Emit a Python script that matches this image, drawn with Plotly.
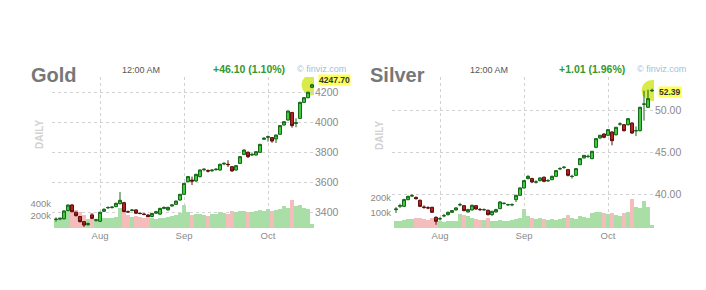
import pandas as pd
import plotly.graph_objects as go

# ---------------- data ----------------
dates = [d.strftime("%Y-%m-%d") for d in pd.bdate_range("2025-07-17", periods=65, freq="C", holidays=["2025-09-01"])]
month_ticks = ["Aug", "Sep", "Oct"]

gold_open = [3350, 3353, 3355, 3410, 3447, 3398, 3370, 3336, 3316, 3380, 3345, 3338, 3405, 3428, 3430, 3436, 3456, 3462, 3402, 3410,
             3414, 3391, 3386, 3380, 3370, 3392, 3386, 3424, 3414, 3440, 3451, 3480, 3518, 3602, 3613, 3607, 3636, 3682, 3676, 3675,
             3682, 3680, 3720, 3718, 3702, 3680, 3724, 3784, 3798, 3780, 3780, 3798, 3885, 3898, 3896, 3887, 3918, 3980, 4013, 4064,
             3990, 4024, 4131, 4162, 4231]
gold_high = [3365, 3362, 3412, 3452, 3452, 3402, 3372, 3340, 3330, 3390, 3355, 3402, 3425, 3438, 3440, 3462, 3533, 3468, 3410, 3420,
             3418, 3398, 3392, 3386, 3395, 3408, 3428, 3438, 3435, 3452, 3476, 3520, 3594, 3640, 3636, 3655, 3684, 3692, 3684, 3686,
             3692, 3722, 3732, 3745, 3706, 3712, 3772, 3818, 3804, 3792, 3806, 3854, 3900, 3910, 3900, 3916, 3980, 4005, 4078, 4066,
             4025, 4135, 4166, 4202, 4255]
gold_low = [3335, 3345, 3350, 3405, 3398, 3370, 3330, 3300, 3308, 3352, 3335, 3333, 3400, 3420, 3422, 3432, 3450, 3398, 3394, 3404,
            3386, 3384, 3378, 3366, 3365, 3386, 3380, 3418, 3410, 3436, 3448, 3476, 3514, 3596, 3580, 3600, 3630, 3672, 3664, 3668,
            3676, 3676, 3712, 3700, 3668, 3676, 3720, 3780, 3760, 3774, 3776, 3794, 3880, 3870, 3862, 3860, 3914, 3976, 4010, 3962,
            3965, 4020, 4126, 4158, 4226]
gold_close = [3352, 3358, 3407, 3446, 3402, 3376, 3336, 3313, 3322, 3358, 3348, 3398, 3418, 3430, 3432, 3458, 3478, 3403, 3401, 3413,
              3392, 3390, 3384, 3370, 3390, 3402, 3424, 3430, 3431, 3447, 3473, 3518, 3591, 3636, 3606, 3651, 3680, 3685, 3673, 3679,
              3685, 3718, 3724, 3716, 3674, 3709, 3769, 3813, 3769, 3784, 3802, 3851, 3891, 3902, 3873, 3913, 3976, 4002, 4073, 3976,
              3995, 4131, 4162, 4198, 4247.7]
gold_volume = [150, 170, 200, 300, 330, 300, 260, 220, 150, 250, 140, 170, 160, 160, 170, 180, 330, 350, 210, 180,
               200, 190, 170, 180, 160, 150, 170, 160, 180, 200, 220, 250, 380, 270, 210, 230, 240, 220, 200, 230,
               240, 260, 250, 240, 280, 260, 290, 280, 270, 260, 290, 300, 280, 310, 290, 300, 320, 360, 330, 470,
               360, 390, 330, 320, 60]  # thousands

silver_open = [38.20, 38.60, 38.59, 39.39, 39.82, 39.66, 39.31, 38.50, 38.42, 38.47, 37.28, 37.10, 37.45, 37.60, 37.88, 38.16, 38.76, 38.67, 37.92, 38.16,
               38.67, 38.22, 38.18, 38.12, 37.60, 37.92, 38.32, 38.93, 38.77, 38.77, 39.39, 39.90, 40.78, 41.89, 41.89, 41.47, 41.65, 42.05, 41.63, 41.77,
               42.16, 43.06, 43.22, 42.96, 42.14, 42.28, 43.55, 44.35, 44.52, 44.27, 45.62, 46.73, 47.20, 47.05, 47.44, 47.12, 48.38, 48.31, 48.31, 48.51,
               47.58, 47.60, 50.75, 50.38, 52.35]
silver_high = [38.50, 38.90, 39.50, 39.85, 40.05, 39.75, 39.40, 38.70, 38.60, 38.55, 37.40, 37.30, 37.70, 37.95, 38.15, 38.50, 39.00, 38.75, 38.30, 38.80,
               38.75, 38.40, 38.35, 38.20, 38.05, 38.30, 39.20, 39.05, 38.90, 38.95, 39.95, 40.85, 41.70, 42.30, 42.00, 41.70, 42.05, 42.15, 41.85, 42.25,
               42.90, 43.25, 43.40, 43.05, 42.35, 43.15, 44.35, 44.70, 44.75, 45.20, 46.70, 47.10, 47.30, 47.80, 47.55, 48.05, 48.60, 48.40, 49.10, 48.60,
               48.10, 50.45, 52.36, 52.48, 52.60]
silver_low = [37.80, 38.40, 38.50, 39.30, 39.70, 39.40, 38.50, 38.30, 38.25, 37.80, 36.40, 36.90, 37.30, 37.50, 37.80, 38.10, 38.60, 38.00, 37.85, 38.10,
              38.20, 38.05, 38.05, 37.50, 37.45, 37.85, 38.25, 38.80, 38.65, 38.60, 39.10, 39.85, 40.70, 41.80, 41.35, 41.30, 41.55, 41.45, 41.50, 41.70,
              42.10, 42.90, 43.05, 42.15, 41.90, 42.20, 43.50, 44.30, 44.35, 44.20, 45.50, 46.60, 46.70, 46.95, 45.85, 47.00, 48.20, 47.50, 48.20, 47.20,
              46.95, 47.50, 48.79, 50.30, 52.20]
silver_close = [38.27, 38.67, 39.39, 39.78, 39.86, 39.50, 38.59, 38.47, 38.40, 37.88, 36.81, 37.12, 37.48, 37.88, 38.08, 38.40, 38.79, 38.08, 38.20, 38.71,
                38.27, 38.20, 38.20, 37.60, 38.00, 38.20, 39.11, 38.95, 38.79, 38.79, 39.90, 40.78, 41.65, 42.16, 41.49, 41.49, 41.97, 41.57, 41.65, 42.16,
                42.84, 43.08, 43.24, 42.28, 42.16, 43.08, 44.27, 44.66, 44.54, 45.14, 46.65, 47.05, 46.81, 47.72, 46.41, 48.00, 48.40, 47.60, 49.03, 47.32,
                47.60, 50.38, 50.77, 51.41, 52.39]
silver_volume = [45, 50, 55, 60, 60, 65, 67, 60, 55, 65, 60, 45, 40, 45, 50, 50, 95, 90, 80, 70,
                 60, 55, 55, 65, 50, 50, 55, 45, 50, 55, 60, 65, 130, 80, 70, 60, 65, 60, 55, 60,
                 55, 60, 65, 90, 70, 60, 80, 75, 70, 100, 105, 110, 100, 95, 100, 90, 80, 100, 110, 195,
                 140, 135, 180, 140, 20]  # thousands

gold_change = "+46.10 (1.10%)"
silver_change = "+1.01 (1.96%)"
time_label = "12:00 AM"

# ---------------- styling helpers ----------------
W, H = 706, 290
FONT = "Liberation Sans, Arial, sans-serif"
GRID = "#d2d2d2"
DASH = "3px,3px"
INC_FILL, INC_LINE = "#3bcc3b", "#16661a"
DEC_FILL, DEC_LINE = "#b52222", "#5e0e0e"
VOL_UP, VOL_DN = "#a9dea6", "#f5bcbc"

def px_x(x):
    return x / W

def px_y(y):
    return 1 - y / H

fig = go.Figure()

tick_dates = []
for m in month_ticks:
    tick_dates.append(next(d for d in dates if pd.Timestamp(d).strftime("%b") == m))

panels = [
    dict(name="Gold", o=gold_open, h=gold_high, l=gold_low, c=gold_close, v=gold_volume,
         xa="x", va="y", pa="y2", xk="xaxis", vk="yaxis", pk="yaxis2",
         dom=(52, 314), prange=(3293.3, 4300), ptick=[3400, 3600, 3800, 4000, 4200], pfmt="d",
         vmax=2516.7e3, vticks=[200e3, 400e3], chg=gold_change, title_x=29, time_x=141, chg_x=211, fin_x=295, daily_x=40,
         lbl_shift=5),
    dict(name="Silver", o=silver_open, h=silver_high, l=silver_low, c=silver_close, v=silver_volume,
         xa="x2", va="y3", pa="y4", xk="xaxis2", vk="yaxis3", pk="yaxis4",
         dom=(392, 654), prange=(36.01, 53.99), ptick=[40, 45, 50], pfmt=".2f",
         vmax=1006.7e3, vticks=[100e3, 200e3], chg=silver_change, title_x=368, time_x=489, chg_x=557, fin_x=635, daily_x=380,
         lbl_shift=-2),
]

ydom = [px_y(228), px_y(77)]

for p in panels:
    vol = [v * 1000 for v in p["v"]]
    vcol = [VOL_UP if c >= o else VOL_DN for o, c in zip(p["o"], p["c"])]
    fig.add_trace(go.Bar(x=dates, y=vol, marker=dict(color=vcol, line=dict(width=0)),
                         xaxis=p["xa"], yaxis=p["va"], showlegend=False, hoverinfo="skip"))
    fig.add_trace(go.Candlestick(x=dates, open=p["o"], high=p["h"], low=p["l"], close=p["c"],
                                 increasing=dict(fillcolor=INC_FILL, line=dict(color=INC_LINE, width=1)),
                                 decreasing=dict(fillcolor=DEC_FILL, line=dict(color=DEC_LINE, width=1)),
                                 whiskerwidth=0, xaxis=p["xa"], yaxis=p["pa"], showlegend=False))

    fig.layout[p["xk"]] = dict(domain=[px_x(p["dom"][0]), px_x(p["dom"][1])], anchor=p["va"], type="category",
                               range=[-1, len(dates) - 0.5], rangeslider=dict(visible=False),
                               tickvals=tick_dates, ticktext=month_ticks, showgrid=True, gridcolor=GRID,
                               griddash=DASH, gridwidth=1, showline=False, zeroline=False, ticks="",
                               tickfont=dict(family=FONT, size=9.5, color="#8a8a8a"))
    fig.layout[p["vk"]] = dict(domain=ydom, anchor=p["xa"], side="left", range=[0, p["vmax"]],
                               tickvals=p["vticks"], ticktext=[f"{int(t/1000)}k" for t in p["vticks"]],
                               showgrid=False, zeroline=False, showline=False, ticks="",
                               tickfont=dict(family=FONT, size=9.5, color="#8a8a8a"))
    fig.layout[p["pk"]] = dict(domain=ydom, anchor=p["xa"], overlaying=p["va"], side="right",
                               range=list(p["prange"]), tickvals=p["ptick"], tickformat=p["pfmt"],
                               showgrid=True, gridcolor=GRID, griddash=DASH, gridwidth=1,
                               zeroline=False, showline=False, ticks="",
                               tickfont=dict(family=FONT, size=10.5, color="#8a8a8a"))

    last_i = len(dates) - 1
    last_c = p["c"][-1]
    # highlight circle on last candle
    fig.add_shape(type="circle", xref=p["xa"], yref=p["pa"], xsizemode="pixel", ysizemode="pixel",
                  xanchor=last_i, yanchor=last_c, x0=-10.5, x1=10.5, y0=-10.5, y1=10.5,
                  fillcolor="rgba(208,228,20,0.78)", line=dict(width=0), layer="below")
    # last price label
    lbl = f"{last_c:.2f}"
    fig.add_annotation(xref=f"{p['xa']} domain", x=1, xanchor="left", xshift=4, yref=p["pa"], y=last_c,
                       yshift=p["lbl_shift"], text=f"<b>{lbl}</b>", showarrow=False, bgcolor="#ffff55", borderpad=0,
                       font=dict(family=FONT, size=8.5, color="#333333"))
    # title
    fig.add_annotation(xref="paper", yref="paper", x=px_x(p["title_x"]), y=px_y(75), xanchor="left", yanchor="middle",
                       text=f"<b>{p['name']}</b>", showarrow=False, font=dict(family=FONT, size=20, color="#777777"))
    fig.add_annotation(xref="paper", yref="paper", x=px_x(p["time_x"]), y=px_y(70), xanchor="center", yanchor="middle",
                       text=time_label, showarrow=False, font=dict(family=FONT, size=9, color="#555555"))
    fig.add_annotation(xref="paper", yref="paper", x=px_x(p["chg_x"]), y=px_y(69), xanchor="left", yanchor="middle",
                       text=f"<b>{p['chg']}</b>", showarrow=False, font=dict(family=FONT, size=10.5, color="#2f9a2f"))
    fig.add_annotation(xref="paper", yref="paper", x=px_x(p["fin_x"]), y=px_y(69), xanchor="left", yanchor="middle",
                       text="© finviz.com", showarrow=False, font=dict(family=FONT, size=9, color="#9dbfe0"))
    fig.add_annotation(xref="paper", yref="paper", x=px_x(p["daily_x"]), y=px_y(135), xanchor="center", yanchor="middle",
                       text="<b>DAILY</b>", textangle=-90, showarrow=False, font=dict(family=FONT, size=10, color="#d2d2d2"))

fig.update_layout(width=W, height=H, margin=dict(l=0, r=0, t=0, b=0), paper_bgcolor="white", plot_bgcolor="white",
                  bargap=0, boxgap=0.15, boxgroupgap=0.1, showlegend=False, hovermode=False)

fig.write_html("out.html")
